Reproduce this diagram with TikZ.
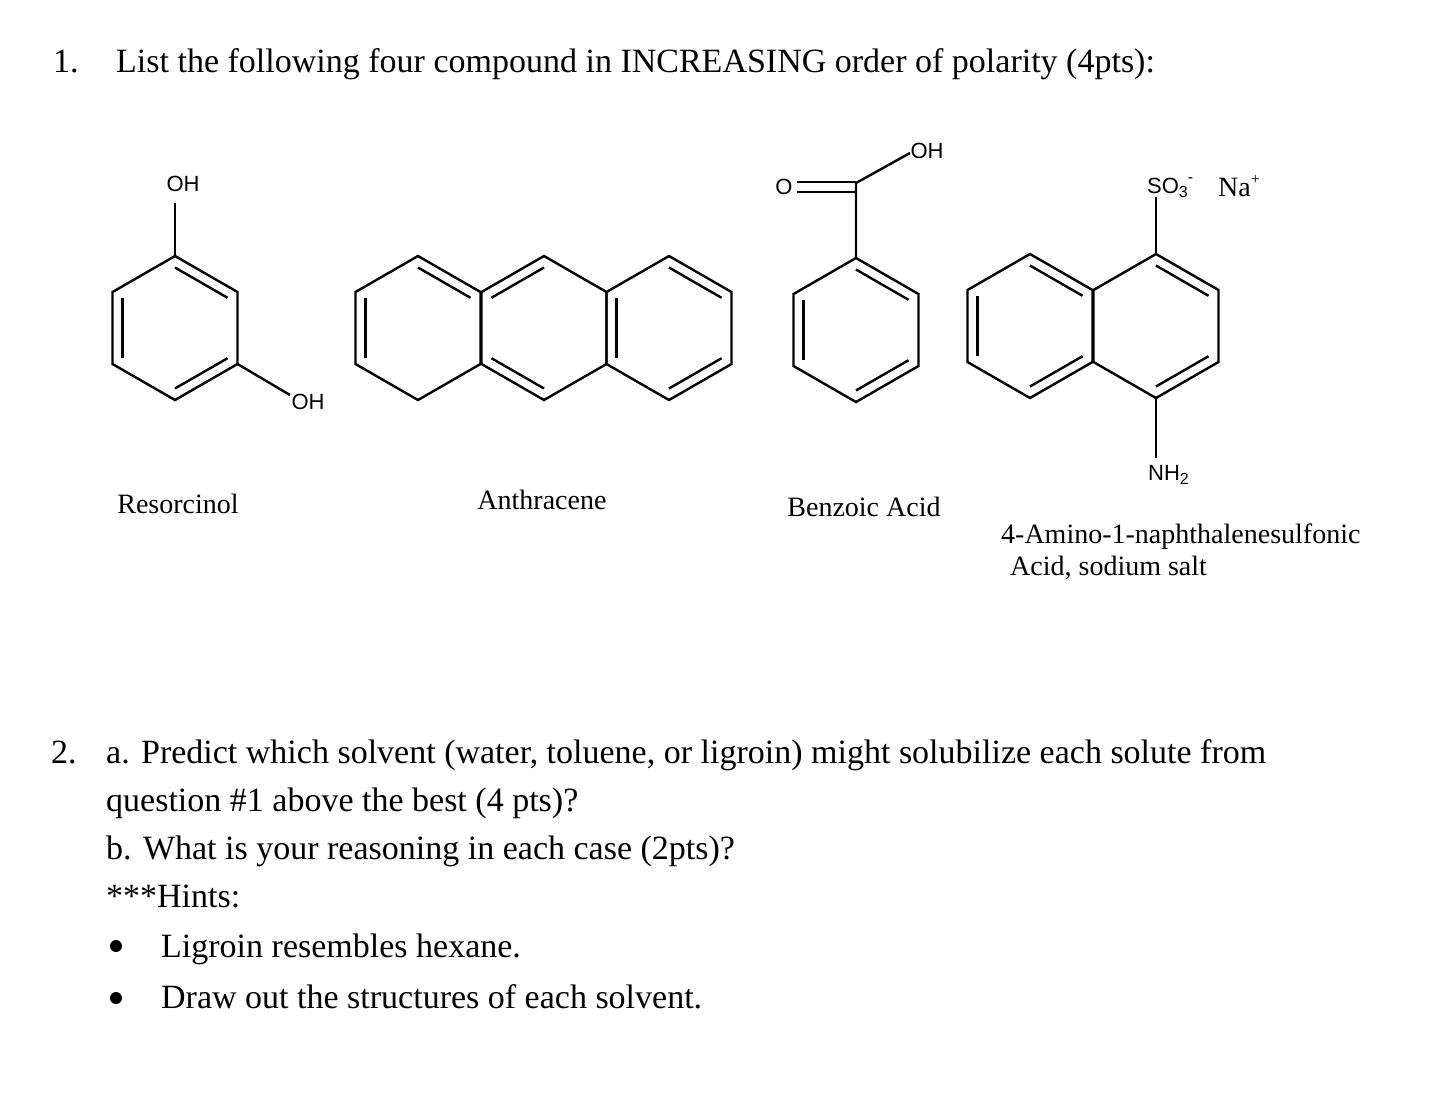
\documentclass[tikz,border=0pt]{standalone}
\usepackage{fontspec}
\setmainfont{Liberation Serif}
\newfontfamily\chemf{Liberation Sans}
\usetikzlibrary{calc}
\begin{document}
\begin{tikzpicture}[x=0.5pt,y=-0.5pt,line width=1.2pt,
  q/.style={anchor=base west,font=\fontsize{17}{20}\selectfont,inner sep=0},
  lab/.style={font=\fontsize{14}{16}\selectfont,inner sep=0},
  ch/.style={font=\chemf\fontsize{11}{13}\selectfont,inner sep=0}]
\useasboundingbox (0,0) rectangle (1452,1116);
\newcommand{\ring}[3]{% name, cx, cy
  \coordinate (#1c) at (#2,#3);
  \coordinate (#1a) at (#2,#3-72);
  \coordinate (#1b) at (#2+62.5,#3-36);
  \coordinate (#1d) at (#2+62.5,#3+36);
  \coordinate (#1e) at (#2,#3+72);
  \coordinate (#1f) at (#2-62.5,#3+36);
  \coordinate (#1g) at (#2-62.5,#3-36);
  \draw (#1a)--(#1b)--(#1d)--(#1e)--(#1f)--(#1g)--cycle;}
\newcommand{\dbl}[3]{\draw ($(#1c)!0.84!(#1#2)$)--($(#1c)!0.84!(#1#3)$);}
\newcommand{\mysub}[1]{\raisebox{-0.35ex}{\fontsize{8}{9}\selectfont #1}}
\newcommand{\mysup}[1]{\raisebox{0.9ex}{\fontsize{8}{9}\selectfont #1}}
% title
\node[q] (t1n) at (52,72) {1.};
\node[q] (t1) at (115,72) {List the following four compound in INCREASING order of polarity (4pts):};
% resorcinol
\ring{r}{175}{328}
\dbl{r}{a}{b}\dbl{r}{f}{g}\dbl{r}{d}{e}
\node[ch] (roh1) at (183,184) {OH};
\draw (ra)--(175,203);
\node[ch] (roh2) at (308,402) {OH};
\draw (rd)--(290,395);
\node[lab] (rl) at (178,504) {Resorcinol};
% anthracene
\ring{p}{418}{328}\ring{m}{544}{328}\ring{s}{669}{328}
\dbl{p}{a}{b}\dbl{p}{f}{g}\dbl{m}{g}{a}\dbl{m}{f}{e}
\dbl{s}{f}{g}\dbl{s}{a}{b}\dbl{s}{d}{e}
\node[lab] (al) at (542,500) {Anthracene};
% benzoic acid
\ring{b}{856}{330}
\dbl{b}{a}{b}\dbl{b}{f}{g}\dbl{b}{d}{e}
\coordinate (bC) at (856,183);
\draw (ba)--(bC)--(910,153);
\node[ch] (boh) at (927,151) {OH};
\node[ch] (bo) at (784,187) {O};
\draw (bo.east)++(3,-5)--(856,182);
\draw (bo.east)++(3,5)--(856,192);
\node[lab] (bl) at (864,507) {Benzoic Acid};
% naphthalene
\ring{n}{1030}{326}\ring{k}{1156}{326}
\dbl{n}{a}{b}\dbl{n}{f}{g}\dbl{n}{d}{e}
\dbl{k}{a}{b}\dbl{k}{d}{e}
\draw (ka)--(1156,197);
\node[ch,anchor=base west] (so3) at (1146,193) {SO\mysub{3}\mysup{-}};
\node[lab,anchor=base west] (na) at (1217,196) {Na\mysup{+}};
\draw (ke)--(1156,458);
\node[ch,anchor=base west] (nh2) at (1147,480) {NH\mysub{2}};
\node[lab,anchor=base west] (nl1) at (1000,543) {4-Amino-1-naphthalenesulfonic};
\node[lab,anchor=base west] (nl2) at (1009,575) {Acid, sodium salt};
% question 2
\node[q] (t2n) at (50,763) {2.};
\node[q] (t2a) at (105,763) {a. Predict which solvent (water, toluene, or ligroin) might solubilize each solute from};
\node[q] (t2b) at (105,811) {question \#1 above the best (4 pts)?};
\node[q] (t2c) at (105,859) {b. What is your reasoning in each case (2pts)?};
\node[q] (t2d) at (105,907) {***Hints:};
\fill (116,946) circle (6);
\node[q] (h1) at (160,957) {Ligroin resembles hexane.};
\fill (116,998) circle (6);
\node[q] (h2) at (160,1008) {Draw out the structures of each solvent.};
\end{tikzpicture}
\end{document}
